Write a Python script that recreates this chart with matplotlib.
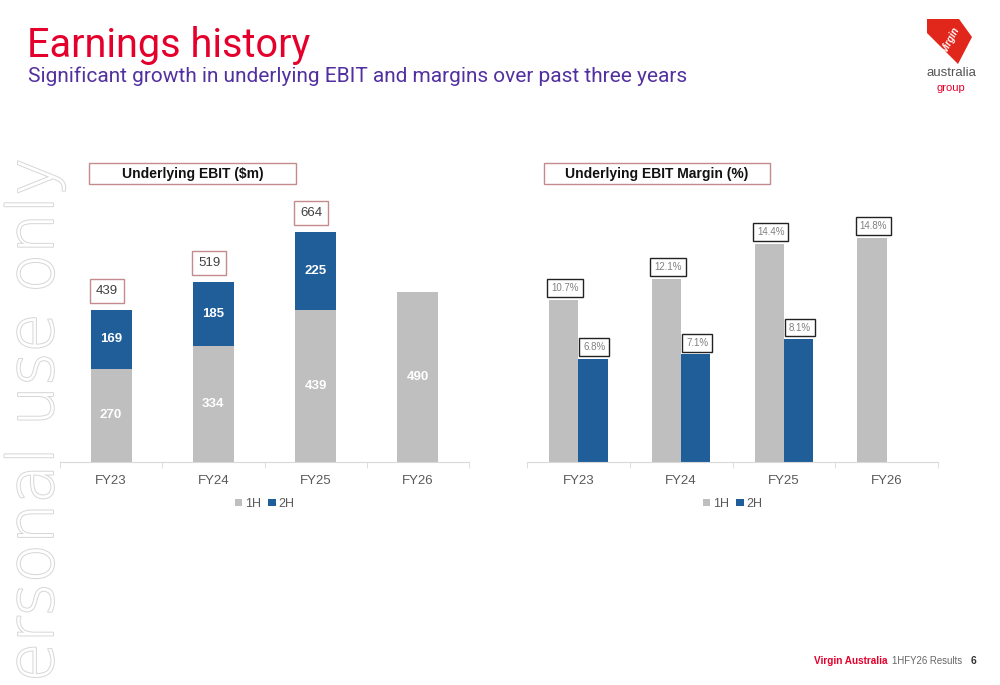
import matplotlib.pyplot as plt
import matplotlib.patheffects as pe
from matplotlib.patches import Rectangle, Polygon
import numpy as np

plt.rcParams['font.family'] = ['Liberation Sans', 'DejaVu Sans']

years = ["FY23", "FY24", "FY25", "FY26"]
ebit_1h = [270, 334, 439, 490]
ebit_2h = [169, 185, 225, None]
ebit_total = [439, 519, 664, None]
margin_1h = [10.7, 12.1, 14.4, 14.8]
margin_2h = [6.8, 7.1, 8.1, None]

GREY = "#bfbfbf"
BLUE = "#1f5e99"
RED = "#e4002b"
PURPLE = "#5230a0"
BOXRED = "#c48a8e"

W, H = 1000, 685
fig = plt.figure(figsize=(10, 6.85), dpi=100)


def fx(px):
    return px / W


def fy(py):
    return 1 - py / H


def style_axis(ax):
    for s in ["left", "right", "top"]:
        ax.spines[s].set_visible(False)
    ax.spines["bottom"].set_color("#d9d9d9")
    ax.set_yticks([])
    ax.set_xlim(-0.5, 3.5)
    ax.set_xticks(range(4))
    ax.set_xticklabels(years, color="#595959", fontsize=9.5)
    ax.tick_params(axis="x", which="major", length=0, pad=9)
    ax.set_xticks([-0.5, 0.5, 1.5, 2.5, 3.5], minor=True)
    ax.tick_params(axis="x", which="minor", length=4, color="#d9d9d9")
    ax.patch.set_alpha(0)


# ---- watermark (behind everything) ----
fig.text(fx(53), fy(158), "personal use only", rotation=90, rotation_mode="anchor",
         ha="right", va="baseline", fontsize=46, color="white",
         family=["DejaVu Sans"], fontweight="light", zorder=0,
         path_effects=[pe.withStroke(linewidth=1.4, foreground="#d6d6d6")])

# ---- left: underlying EBIT ----
ax1 = fig.add_axes([fx(60), fy(462), fx(469) - fx(60), 262 / H])
x = np.arange(len(years))
bw = 0.4
ax1.bar(x, ebit_1h, bw, color=GREY, label="1H")
h2 = [v if v is not None else 0 for v in ebit_2h]
ax1.bar(x[:3], h2[:3], bw, bottom=ebit_1h[:3], color=BLUE, label="2H")
ax1.set_ylim(0, 757)
style_axis(ax1)
for i in range(4):
    ax1.text(x[i], ebit_1h[i] / 2, str(ebit_1h[i]), ha="center", va="center",
             color="white", fontsize=9.5, fontweight="bold")
    if ebit_2h[i] is not None:
        ax1.text(x[i], ebit_1h[i] + ebit_2h[i] / 2, str(ebit_2h[i]), ha="center",
                 va="center", color="white", fontsize=9.5, fontweight="bold")
    if ebit_total[i] is not None:
        ax1.annotate(str(ebit_total[i]), (x[i], ebit_total[i]), xytext=(-3, 14),
                     textcoords="offset points", ha="center", va="center",
                     fontsize=9.5, color="#404040",
                     bbox=dict(boxstyle="square,pad=0.45", fc="white", ec=BOXRED, lw=1))
ax1.legend(loc="center", bbox_to_anchor=(0.5, -0.16), ncol=2, frameon=False,
           fontsize=9, handlelength=0.6, handleheight=0.6, handletextpad=0.2,
           columnspacing=0.6, labelcolor="#595959")

# ---- right: underlying EBIT margin ----
ax2 = fig.add_axes([fx(527), fy(462), fx(938) - fx(527), 262 / H])
bw2 = 0.285
ax2.bar(x - bw2 / 2, margin_1h, bw2, color=GREY, label="1H")
m2 = [v if v is not None else 0 for v in margin_2h]
ax2.bar(x[:3] + bw2 / 2, m2[:3], bw2, color=BLUE, label="2H")
ax2.set_ylim(0, 17.3)
style_axis(ax2)
lab = dict(textcoords="offset points", ha="center", va="center", fontsize=7,
           color="#808080",
           bbox=dict(boxstyle="square,pad=0.4", fc="white", ec="#222222", lw=1))
for i in range(4):
    ax2.annotate(f"{margin_1h[i]:.1f}%", (x[i] - bw2 / 2, margin_1h[i]),
                 xytext=(1, 8.5), **lab)
    if margin_2h[i] is not None:
        ax2.annotate(f"{margin_2h[i]:.1f}%", (x[i] + bw2 / 2, margin_2h[i]),
                     xytext=(1, 8.5), **lab)
ax2.legend(loc="center", bbox_to_anchor=(0.5, -0.16), ncol=2, frameon=False,
           fontsize=9, handlelength=0.6, handleheight=0.6, handletextpad=0.2,
           columnspacing=0.6, labelcolor="#595959")

# ---- panel title boxes ----
for (l, r, t) in [(89, 296, "Underlying EBIT ($m)"), (544, 770, "Underlying EBIT Margin (%)")]:
    fig.patches.append(Rectangle((fx(l), fy(184)), fx(r) - fx(l), (184 - 163) / H,
                                 transform=fig.transFigure, fc="white", ec=BOXRED, lw=1))
    fig.text(fx((l + r) / 2), fy(174), t, ha="center", va="center", fontsize=10,
             fontweight="bold", color="#111111")

# ---- titles ----
fig.text(fx(27), fy(57), "Earnings history", fontsize=28.5, color=RED, va="baseline",
         family=["Roboto", "Liberation Sans"])
fig.text(fx(28), fy(82), "Significant growth in underlying EBIT and margins over past three years",
         fontsize=15, color=PURPLE, va="baseline",
         family=["Roboto", "Liberation Sans"])

# ---- logo ----
fig.patches.append(Polygon([(fx(927), fy(19)), (fx(959), fy(19)), (fx(972), fy(37)),
                            (fx(958), fy(64)), (fx(927), fy(33))],
                           closed=True, transform=fig.transFigure, fc="#e1261c", ec="none"))
fig.text(fx(950), fy(40), "Virgin", rotation=62, ha="center", va="center", fontsize=7,
         color="white", style="italic", fontweight="bold")
fig.text(fx(951), fy(73), "australia", ha="center", va="center", fontsize=9.5, color="#555555")
fig.text(fx(951), fy(88), "group", ha="center", va="center", fontsize=8, color=RED)

# ---- footer ----
fig.text(fx(888), fy(661), "Virgin Australia", ha="right", va="center", fontsize=7.2,
         fontweight="bold", color=RED)
fig.text(fx(892), fy(661), "1HFY26 Results", ha="left", va="center", fontsize=6.9,
         color="#666666")
fig.text(fx(976), fy(661), "6", ha="right", va="center", fontsize=7.5,
         fontweight="bold", color="#333333")

fig.savefig("out.png", dpi=100)
